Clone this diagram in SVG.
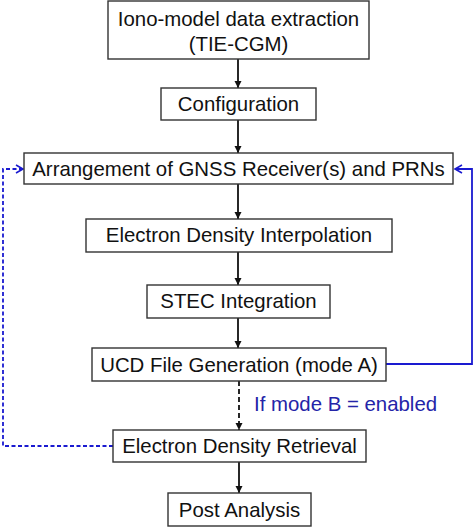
<svg xmlns="http://www.w3.org/2000/svg" width="474" height="528" viewBox="0 0 474 528">
<style>
.box{fill:#fff;stroke:#333;stroke-width:1.4}
.t{font-family:"Liberation Sans",Arial,sans-serif;font-size:20.4px;fill:#111;text-anchor:middle}
.k{stroke:#111;stroke-width:1.8;fill:none}
.b{stroke:#1a1ad0;stroke-width:1.8;fill:none}
</style>
<defs>
<marker id="ah" markerWidth="8" markerHeight="8" refX="7" refY="4" orient="auto" markerUnits="userSpaceOnUse">
<path d="M0,0.5 L7,4 L0,7.5 Z" fill="#111"/>
</marker>
<marker id="bh" markerWidth="10" markerHeight="10" refX="8" refY="5" orient="auto" markerUnits="userSpaceOnUse">
<path d="M1,1 L8,5 L1,9" fill="none" stroke="#1a1ad0" stroke-width="1.6"/>
</marker>
</defs>
<rect width="474" height="528" fill="#fff"/>
<g id="connectors">
<line class="k" x1="238" y1="59" x2="238" y2="88" marker-end="url(#ah)"/>
<line class="k" x1="238" y1="120" x2="238" y2="153" marker-end="url(#ah)"/>
<line class="k" x1="238" y1="184" x2="238" y2="219" marker-end="url(#ah)"/>
<line class="k" x1="238" y1="252" x2="238" y2="285" marker-end="url(#ah)"/>
<line class="k" x1="238" y1="318" x2="238" y2="348" marker-end="url(#ah)"/>
<line class="k" x1="239" y1="381" x2="239" y2="430" stroke-dasharray="5,3" marker-end="url(#ah)"/>
<line class="k" x1="239" y1="462" x2="239" y2="493" marker-end="url(#ah)"/>
<polyline class="b" points="386,364 472,364 472,169 455,169" marker-end="url(#bh)"/>
<polyline class="b" points="113,446 3,446 3,169 23,169" stroke-dasharray="4,2.5" stroke-width="1.5" marker-end="url(#bh)"/>
<text x="254" y="411" font-family="Liberation Sans,Arial,sans-serif" font-size="20.4" fill="#2424a8">If mode B = enabled</text>
</g>
<g id="n1"><rect class="box" x="108" y="1" width="261" height="58"/><text class="t" x="238.5" y="26">Iono-model data extraction</text><text class="t" x="238.5" y="51">(TIE-CGM)</text></g>
<g id="n2"><rect class="box" x="161" y="88" width="155" height="32"/><text class="t" x="238.5" y="111">Configuration</text></g>
<g id="n3"><rect class="box" x="24" y="153" width="429" height="31"/><text class="t" x="238.5" y="176">Arrangement of GNSS Receiver(s) and PRNs</text></g>
<g id="n4"><rect class="box" x="86" y="219" width="306" height="33"/><text class="t" x="239" y="242">Electron Density Interpolation</text></g>
<g id="n5"><rect class="box" x="147" y="285" width="183" height="33"/><text class="t" x="238.5" y="308">STEC Integration</text></g>
<g id="n6"><rect class="box" x="92" y="348" width="294" height="33"/><text class="t" x="239" y="372">UCD File Generation (mode A)</text></g>
<g id="n7"><rect class="box" x="113" y="430" width="253" height="32"/><text class="t" x="239.5" y="453">Electron Density Retrieval</text></g>
<g id="n8"><rect class="box" x="168" y="493" width="143" height="33"/><text class="t" x="239.5" y="517">Post Analysis</text></g>
</svg>
